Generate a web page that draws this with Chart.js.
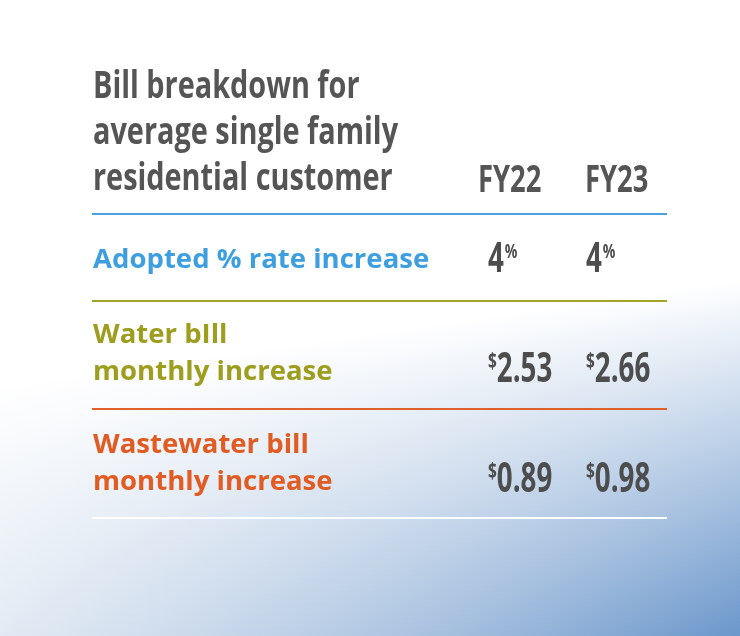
<!DOCTYPE html>
<html><head><meta charset="utf-8">
<script src="https://cdn.jsdelivr.net/npm/chart.js@4/dist/chart.umd.min.js"></script>
<style>
html,body{margin:0;padding:0;width:740px;height:636px;overflow:hidden}
body{background:
 linear-gradient(172deg,rgba(255,255,255,1) 52%,rgba(255,255,255,0) 100%),
 linear-gradient(90deg,#d6e2ef 0%,#9fbbdc 55%,#6b97cb 100%);}
#wrap{position:absolute;left:0;top:0;width:740px;height:636px}
</style></head><body>
<div id="wrap"><canvas id="c" width="740" height="636"></canvas></div>
<script>
const titleLines=["Bill breakdown for","average single family","residential customer"];
const columns=["FY22","FY23"];
const rowLabels=[["Adopted % rate increase"],["Water bIll","monthly increase"],["Wastewater bill","monthly increase"]];
const rowColors=["#3d9fe0","#9d9d1e","#e25b22"];
const lineColors=["#4aa3df","#a3a32a","#e0602a","#ffffff"];
const fy22=[{u:"",v:"4",s:"%"},{u:"$",v:"2.53",s:""},{u:"$",v:"0.89",s:""}];
const fy23=[{u:"",v:"4",s:"%"},{u:"$",v:"2.66",s:""},{u:"$",v:"0.98",s:""}];
const FONT='"DejaVu Sans",sans-serif';
function txt(c,t,x,y,sx){c.save();c.translate(x,y);c.scale(sx,1);c.fillText(t,0,0);c.restore();return c.measureText(t).width*sx;}
const tablePlugin={id:'table',afterDraw(ch){
 const c=ch.ctx,X=v=>ch.scales.x.getPixelForValue(v),Y=v=>ch.scales.y.getPixelForValue(v);
 c.save();c.textBaseline='alphabetic';
 c.fillStyle='#555555';c.font='bold 37px "Open Sans",sans-serif';
 titleLines.forEach((t,i)=>txt(c,t,X(93),Y(98+i*46),0.78));
 c.font='bold 38px "Open Sans",sans-serif';
 txt(c,columns[0],X(478),Y(192),0.72);txt(c,columns[1],X(585),Y(192),0.72);
 const lineY=[214,301,409,518];
 lineY.forEach((y,i)=>{c.strokeStyle=lineColors[i];c.lineWidth=2;c.beginPath();c.moveTo(X(92),Y(y));c.lineTo(X(667),Y(y));c.stroke();});
 const rowBase=[[268],[343,380],[453,490]];
 const valBase=[272,382,492];
 rowLabels.forEach((lines,i)=>{
  c.fillStyle=rowColors[i];c.font='bold 27px "Open Sans",sans-serif';
  lines.forEach((t,j)=>txt(c,t,X(93),Y(rowBase[i][j]),1.02));
  [[fy22[i],488],[fy23[i],586]].forEach(([d,x])=>{
   c.fillStyle='#4d4d4d';let px=X(x);
   if(d.u){c.font='bold 22px "Open Sans",sans-serif';px+=txt(c,d.u,px,Y(valBase[i]-14),0.7);}
   c.font='bold 42px "Open Sans",sans-serif';px+=txt(c,d.v,px,Y(valBase[i]),0.66)+1;
   if(d.s){c.font='bold 20px "Open Sans",sans-serif';txt(c,d.s,px,Y(valBase[i]-14),0.7);}
  });
 });
 c.restore();}};
new Chart(document.getElementById('c'),{type:'scatter',data:{datasets:[{data:[]}]},
 options:{responsive:false,animation:false,layout:{padding:0},plugins:{legend:{display:false},tooltip:{enabled:false}},
 scales:{x:{type:'linear',min:0,max:740,display:false},y:{type:'linear',min:0,max:636,reverse:true,display:false}}},
 plugins:[tablePlugin]});
</script></body></html>
